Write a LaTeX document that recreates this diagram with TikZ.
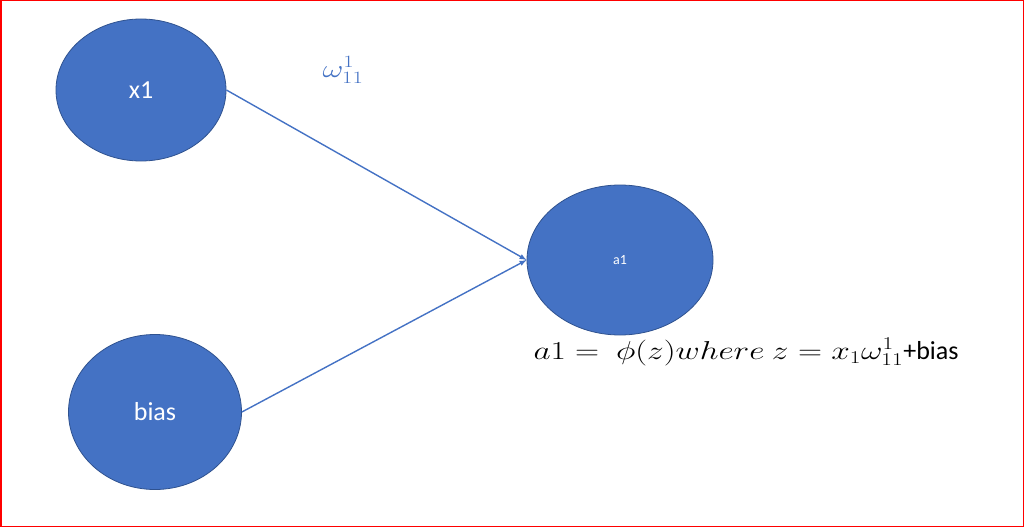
\documentclass[tikz,border=0pt]{standalone}
\usepackage{fontspec}
\usepackage{graphicx}
\setmainfont{Carlito}
\usetikzlibrary{arrows,shapes.geometric}
\definecolor{nodeblue}{HTML}{4472C4}
\definecolor{nodeedge}{HTML}{2F528F}
\tikzset{
  neuron/.style={ellipse,draw=nodeedge,fill=nodeblue,text=white,inner sep=0pt,line width=0.8pt},
  link/.style={-latex,color=nodeblue,line width=1.4pt}
}

\begin{document}
\begin{tikzpicture}[x=1pt,y=-1pt]
      \useasboundingbox (0,0) rectangle (1024,527);
      \draw[red,line width=1.5pt] (0.75,0.75) rectangle (1023.25,526.25);
      \node[neuron,minimum width=170pt,minimum height=142pt] (x1) at (141,90)
      {\fontsize{26}{30}\selectfont x1};
      \node[neuron,minimum width=173pt,minimum height=155pt] (bias) at (155,412)
      {\fontsize{26}{30}\selectfont bias};
      \node[neuron,minimum width=186pt,minimum height=150pt] (a1) at (620,260)
      {\fontsize{14}{16}\selectfont a1};
      \node[color=nodeblue] (w) at (343,70)
      {\fontsize{25}{28}\selectfont\scalebox{1.3}[1]{$\omega^1_{11}$}};
      % Cambria is wider than Latin Modern
      \node[anchor=west] (eq) at (530,352)
      {\fontsize{25}{30}\selectfont\scalebox{1.34}[1.04]{$a1 =\ \phi(z) where\ z = x_1\omega^1_{11}$}%
      \fontsize{26}{30}\selectfont+bias};
      \draw[link] (x1.east) -- (a1.west);
      \draw[link] (bias.east) -- (a1.west);
    \end{tikzpicture}
\end{document}
